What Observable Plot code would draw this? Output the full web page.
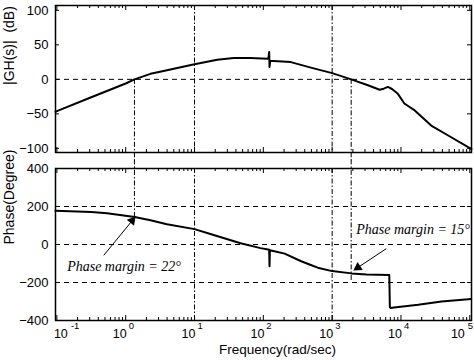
<!DOCTYPE html>
<html><head><meta charset="utf-8">
<script src="https://cdn.jsdelivr.net/npm/d3@7"></script>
<script src="https://cdn.jsdelivr.net/npm/@observablehq/plot@0.6"></script>
<style>
body{margin:0;background:#fff;}
#chart svg{display:block;}
</style></head><body><div id="chart"></div>
<script>
// ---- data (frequency in rad/sec) ----
const magFreq = [0.0955, 0.1, 0.316, 1.0, 1.34, 2.29, 3.16, 5.62, 10, 21.4, 37, 64.6, 114.8, 118.9, 121.6, 123.0, 125.9, 141, 251, 490, 1000, 1890, 3310, 4900, 5620, 6460, 7410, 9020, 11200, 15850, 27500, 47900, 93300, 105900];
const magDb   = [-47, -46, -26, -6, 0, 8, 11, 16.5, 22, 28.5, 31, 31, 30, 31, 39.5, 18, 27, 26.6, 25, 17, 9, 0, -8.5, -15, -13.5, -11, -14, -21, -35, -45, -67, -81, -98, -101];
const phaseFreq = [0.0955, 0.316, 0.537, 1.35, 2.29, 3.98, 10, 17, 46.8, 91.2, 117, 121.6, 123.0, 124.5, 150, 204, 355, 490, 617, 1000, 1905, 3160, 6760, 6900, 7080, 7940, 17800, 38900, 105000];
const phaseDeg  = [177, 171, 164, 145, 128, 107, 81, 55, 7, -19, -26, -28, -114, -30, -37, -48, -88, -108, -122, -140, -152, -158, -161, -330, -334, -331, -317, -300, -287];
const crossFreq = [1.34, 1890];
const crossPhase = [140, -200];
const decadeExp = [-1, 0, 1, 2, 3, 4, 5];
const gridFreq = [10, 1000];
const magTicks = [-100, -50, 0, 50, 100];
const magGrid = [0];
const phaseTicks = [-400, -200, 0, 200, 400];
const phaseGrid = [-200, 0, 200];
const noteText = ["Phase margin = 22°", "Phase margin = 15°"];
const noteFreq = [0.141, 2240];
const noteDeg = [-114, 78];
const arrowFrom = [[0.48, -57], [6110, -22]];
const arrowTo = [[1.24, 125], [2366, -121]];

// ---- layout ----
const W = 474, ML = 55, MR = 3;
const xDomain = [0.0955, 105900];
const majorFreq = decadeExp.map(e => 10 ** e);
const minorFreq = [];
for (let k = -2; k <= 4; k++) for (let m = 2; m <= 9; m++) {
  const f = m * 10 ** k;
  if (f > xDomain[0] && f < xDomain[1]) minorFreq.push(f);
}
const dashDot = "5,2,1.5,2";
const dash = "5,4";
const font = "'Liberation Sans', Arial, sans-serif";
const firstExp = decadeExp[0], lastExp = decadeExp[decadeExp.length - 1];
const midExp = decadeExp.filter(e => e !== firstExp && e !== lastExp);

function tickMarks(frameH, frameW, yTicks) {
  return [
    Plot.tickX(majorFreq, {x: d => d, insetTop: frameH - 5, strokeWidth: 1}),
    Plot.tickX(majorFreq, {x: d => d, insetBottom: frameH - 5, strokeWidth: 1}),
    Plot.tickX(minorFreq, {x: d => d, insetTop: frameH - 3, strokeWidth: 1}),
    Plot.tickX(minorFreq, {x: d => d, insetBottom: frameH - 3, strokeWidth: 1}),
    Plot.tickY(yTicks, {y: d => d, insetRight: frameW - 4, strokeWidth: 1}),
    Plot.tickY(yTicks, {y: d => d, insetLeft: frameW - 4, strokeWidth: 1})
  ];
}

function decadeLabels(exps, baseAnchor, baseDx, expDx) {
  return [
    Plot.text(exps, {x: d => 10 ** d, frameAnchor: "bottom", text: () => "10", textAnchor: baseAnchor, dx: baseDx, dy: 17, fontSize: 12.5}),
    Plot.text(exps, {x: d => 10 ** d, frameAnchor: "bottom", text: d => String(d), textAnchor: "start", dx: expDx, dy: 8, fontSize: 9.5})
  ];
}

const magData = magFreq.map((f, i) => ({f, v: magDb[i]}));
const phaseData = phaseFreq.map((f, i) => ({f, v: phaseDeg[i]}));

// top panel
const topH = 160, topMT = 5, topMB = 8;
const magPlot = Plot.plot({
  width: W, height: topH, marginLeft: ML, marginRight: MR, marginTop: topMT, marginBottom: topMB,
  style: {fontFamily: font, fontSize: "13px", color: "black", background: "white", overflow: "visible"},
  x: {type: "log", domain: xDomain, axis: null},
  y: {domain: [-106, 107], axis: null},
  marks: [
    Plot.ruleY(magGrid, {stroke: "black", strokeWidth: 1, strokeDasharray: dash}),
    Plot.ruleX(gridFreq, {stroke: "black", strokeWidth: 1, strokeDasharray: dashDot}),
    Plot.ruleX(crossFreq, {y1: 0, y2: -118, stroke: "black", strokeWidth: 1, strokeDasharray: dashDot}),
    Plot.line(magData, {x: "f", y: "v", stroke: "black", strokeWidth: 2}),
    Plot.frame({stroke: "black", strokeWidth: 1.5}),
    ...tickMarks(topH - topMT - topMB, W - ML - MR, magTicks),
    Plot.axisY(magTicks, {tickSize: 0, tickPadding: 7, fontSize: 13, label: null}),
    Plot.text(["|GH(s)|\u00a0\u00a0(dB)"], {frameAnchor: "left", rotate: -90, dx: -46, dy: 6, fontSize: 14})
  ]
});

// bottom panel
const botH = 200, botMT = 8, botMB = 40;
const xs = Plot.scale({x: {type: "log", domain: xDomain, range: [ML, W - MR]}});
const ys = Plot.scale({y: {domain: [-400, 400], range: [botH - botMB, botMT]}});
const arrows = arrowFrom.map((a, i) => {
  const b = arrowTo[i];
  const dx = xs.apply(b[0]) - xs.apply(a[0]);
  const dy = ys.apply(b[1]) - ys.apply(a[1]);
  return {f1: a[0], d1: a[1], f2: b[0], d2: b[1], angle: Math.atan2(dx, -dy) * 180 / Math.PI};
});
const notes = noteText.map((t, i) => ({t, f: noteFreq[i], d: noteDeg[i]}));
const cross = crossFreq.map((f, i) => ({f, d: crossPhase[i]}));

const phasePlot = Plot.plot({
  width: W, height: botH, marginLeft: ML, marginRight: MR, marginTop: botMT, marginBottom: botMB,
  style: {fontFamily: font, fontSize: "13px", color: "black", background: "white", overflow: "visible"},
  x: {type: "log", domain: xDomain, axis: null},
  y: {domain: [-400, 400], axis: null},
  marks: [
    Plot.ruleY(phaseGrid, {stroke: "black", strokeWidth: 1, strokeDasharray: dash}),
    Plot.ruleX(gridFreq, {stroke: "black", strokeWidth: 1, strokeDasharray: dashDot}),
    Plot.ruleX(cross, {x: "f", y1: 445, y2: "d", stroke: "black", strokeWidth: 1, strokeDasharray: dashDot}),
    Plot.line(phaseData, {x: "f", y: "v", stroke: "black", strokeWidth: 2}),
    Plot.frame({stroke: "black", strokeWidth: 1.5}),
    ...tickMarks(botH - botMT - botMB, W - ML - MR, phaseTicks),
    Plot.axisY(phaseTicks, {tickSize: 0, tickPadding: 7, fontSize: 13, label: null}),
    ...decadeLabels(midExp, "end", 1, 3),
    ...decadeLabels([firstExp], "start", -3, 14),
    ...decadeLabels([lastExp], "end", -5, -2),
    Plot.text(["Frequency(rad/sec)"], {frameAnchor: "bottom", dx: 14, dy: 33, fontSize: 13.5}),
    Plot.text(["Phase(Degree)"], {frameAnchor: "left", rotate: -90, dx: -46, fontSize: 14}),
    Plot.text(notes, {x: "f", y: "d", text: "t", textAnchor: "start", fontFamily: "'Liberation Serif', 'Times New Roman', serif", fontStyle: "italic", fontSize: 14}),
    Plot.link(arrows, {x1: "f1", y1: "d1", x2: "f2", y2: "d2", stroke: "black", strokeWidth: 1}),
    Plot.dot(arrows, {x: "f2", y: "d2", symbol: "triangle2", r: 4.5, fill: "black", stroke: "none", rotate: "angle"})
  ]
});

document.getElementById("chart").append(magPlot, phasePlot);
</script></body></html>
